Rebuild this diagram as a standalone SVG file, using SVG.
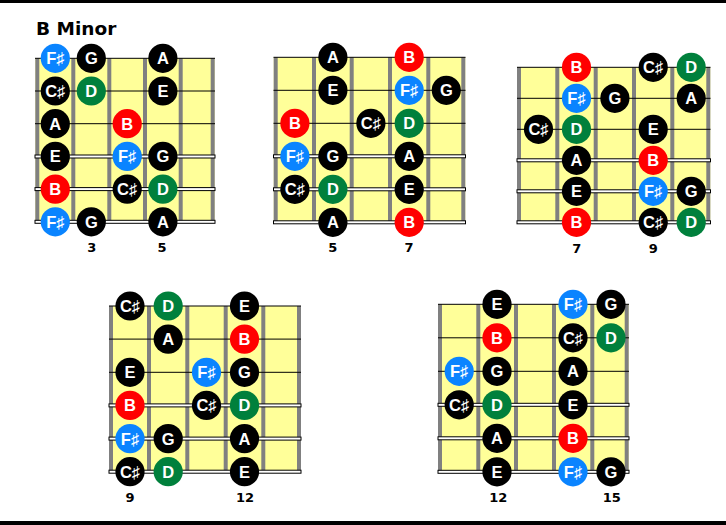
<svg xmlns="http://www.w3.org/2000/svg" width="726" height="525" viewBox="0 0 726 525">
<style>
.bg{fill:#fff}
.bar{fill:#000}
.fb{fill:#ffff99}
.fr{fill:#808080}
.s1{stroke:#000;stroke-width:1}
.s2{fill:#fff;stroke:#000;stroke-width:1}
.blk{fill:#000}
.red{fill:#ff0000}
.blu{fill:#0a84ff}
.grn{fill:#00803c}
.note text{font-family:"Liberation Sans",Arial,sans-serif;font-weight:bold;font-size:16.5px;fill:#fff;text-anchor:middle}
.fl{font-family:"DejaVu Sans",Verdana,sans-serif;font-weight:bold;font-size:13px;fill:#000;text-anchor:middle}
.title{font-family:"DejaVu Sans",Verdana,sans-serif;font-weight:bold;font-size:18.5px;fill:#000}
</style>
<rect class="bg" x="0" y="0" width="726" height="525"/>
<rect class="bar" x="0" y="0" width="726" height="3"/>
<rect class="bar" x="0" y="521" width="726" height="4"/>
<text class="title" x="36" y="35">B Minor</text>

<!-- Diagram 1 -->
<g id="diagram1">
<rect class="fb" x="35.3" y="58.3" width="179.4" height="163.5"/>
<g id="d1-frets">
<rect class="fr" x="35.3" y="58.3" width="4" height="163.5"/>
<rect class="fr" x="71.3" y="58.3" width="4" height="163.5"/>
<rect class="fr" x="107.3" y="58.3" width="4" height="163.5"/>
<rect class="fr" x="143" y="58.3" width="4" height="163.5"/>
<rect class="fr" x="178.7" y="58.3" width="4" height="163.5"/>
<rect class="fr" x="210.7" y="58.3" width="4" height="163.5"/>
</g>
<g id="d1-strings">
<line class="s1" x1="35" y1="58.3" x2="215" y2="58.3"/>
<line class="s1" x1="35" y1="91" x2="215" y2="91"/>
<line class="s1" x1="35" y1="123.7" x2="215" y2="123.7"/>
<rect class="s2" x="35" y="155" width="180" height="3"/>
<rect class="s2" x="35" y="187.6" width="180" height="3"/>
<rect class="s2" x="35" y="220.3" width="180" height="3"/>
</g>
<g id="d1-n01" class="note"><circle class="blu" cx="55.3" cy="58.3" r="14.6"/><text x="55.3" y="64.3">F♯</text></g>
<g id="d1-n02" class="note"><circle class="blk" cx="91.3" cy="58.3" r="14.6"/><text x="91.3" y="64.3">G</text></g>
<g id="d1-n03" class="note"><circle class="blk" cx="162.9" cy="58.3" r="14.6"/><text x="162.9" y="64.3">A</text></g>
<g id="d1-n04" class="note"><circle class="blk" cx="55.3" cy="91" r="14.6"/><text x="55.3" y="97">C♯</text></g>
<g id="d1-n05" class="note"><circle class="grn" cx="91.3" cy="91" r="14.6"/><text x="91.3" y="97">D</text></g>
<g id="d1-n06" class="note"><circle class="blk" cx="162.9" cy="91" r="14.6"/><text x="162.9" y="97">E</text></g>
<g id="d1-n07" class="note"><circle class="blk" cx="55.3" cy="123.7" r="14.6"/><text x="55.3" y="129.7">A</text></g>
<g id="d1-n08" class="note"><circle class="red" cx="127.2" cy="123.7" r="14.6"/><text x="127.2" y="129.7">B</text></g>
<g id="d1-n09" class="note"><circle class="blk" cx="55.3" cy="156.4" r="14.6"/><text x="55.3" y="162.4">E</text></g>
<g id="d1-n10" class="note"><circle class="blu" cx="127.2" cy="156.4" r="14.6"/><text x="127.2" y="162.4">F♯</text></g>
<g id="d1-n11" class="note"><circle class="blk" cx="162.9" cy="156.4" r="14.6"/><text x="162.9" y="162.4">G</text></g>
<g id="d1-n12" class="note"><circle class="red" cx="55.3" cy="189.1" r="14.6"/><text x="55.3" y="195.1">B</text></g>
<g id="d1-n13" class="note"><circle class="blk" cx="127.2" cy="189.1" r="14.6"/><text x="127.2" y="195.1">C♯</text></g>
<g id="d1-n14" class="note"><circle class="grn" cx="162.9" cy="189.1" r="14.6"/><text x="162.9" y="195.1">D</text></g>
<g id="d1-n15" class="note"><circle class="blu" cx="55.3" cy="221.8" r="14.6"/><text x="55.3" y="227.8">F♯</text></g>
<g id="d1-n16" class="note"><circle class="blk" cx="91.3" cy="221.8" r="14.6"/><text x="91.3" y="227.8">G</text></g>
<g id="d1-n17" class="note"><circle class="blk" cx="162.9" cy="221.8" r="14.6"/><text x="162.9" y="227.8">A</text></g>
<text class="fl" x="91.7" y="252">3</text>
<text class="fl" x="162" y="252">5</text>
</g>

<!-- Diagram 2 -->
<g id="diagram2">
<rect class="fb" x="273.7" y="57.3" width="191.6" height="165"/>
<g id="d2-frets">
<rect class="fr" x="273.7" y="57.3" width="4" height="165"/>
<rect class="fr" x="312" y="57.3" width="4" height="165"/>
<rect class="fr" x="349.7" y="57.3" width="4" height="165"/>
<rect class="fr" x="388" y="57.3" width="4" height="165"/>
<rect class="fr" x="426.3" y="57.3" width="4" height="165"/>
<rect class="fr" x="461.3" y="57.3" width="4" height="165"/>
</g>
<g id="d2-strings">
<line class="s1" x1="273.5" y1="57.3" x2="465.5" y2="57.3"/>
<line class="s1" x1="273.5" y1="90.3" x2="465.5" y2="90.3"/>
<line class="s1" x1="273.5" y1="123.3" x2="465.5" y2="123.3"/>
<rect class="s2" x="273.5" y="154.8" width="192" height="3"/>
<rect class="s2" x="273.5" y="187.8" width="192" height="3"/>
<rect class="s2" x="273.5" y="220.8" width="192" height="3"/>
</g>
<g id="d2-n01" class="note"><circle class="blk" cx="332.9" cy="57.3" r="14.6"/><text x="332.9" y="63.3">A</text></g>
<g id="d2-n02" class="note"><circle class="red" cx="409.2" cy="57.3" r="14.6"/><text x="409.2" y="63.3">B</text></g>
<g id="d2-n03" class="note"><circle class="blk" cx="332.9" cy="90.3" r="14.6"/><text x="332.9" y="96.3">E</text></g>
<g id="d2-n04" class="note"><circle class="blu" cx="409.2" cy="90.3" r="14.6"/><text x="409.2" y="96.3">F♯</text></g>
<g id="d2-n05" class="note"><circle class="blk" cx="446.3" cy="90.3" r="14.6"/><text x="446.3" y="96.3">G</text></g>
<g id="d2-n06" class="note"><circle class="red" cx="294.9" cy="123.3" r="14.6"/><text x="294.9" y="129.3">B</text></g>
<g id="d2-n07" class="note"><circle class="blk" cx="370.9" cy="123.3" r="14.6"/><text x="370.9" y="129.3">C♯</text></g>
<g id="d2-n08" class="note"><circle class="grn" cx="409.2" cy="123.3" r="14.6"/><text x="409.2" y="129.3">D</text></g>
<g id="d2-n09" class="note"><circle class="blu" cx="294.9" cy="156.3" r="14.6"/><text x="294.9" y="162.3">F♯</text></g>
<g id="d2-n10" class="note"><circle class="blk" cx="332.9" cy="156.3" r="14.6"/><text x="332.9" y="162.3">G</text></g>
<g id="d2-n11" class="note"><circle class="blk" cx="409.2" cy="156.3" r="14.6"/><text x="409.2" y="162.3">A</text></g>
<g id="d2-n12" class="note"><circle class="blk" cx="294.9" cy="189.3" r="14.6"/><text x="294.9" y="195.3">C♯</text></g>
<g id="d2-n13" class="note"><circle class="grn" cx="332.9" cy="189.3" r="14.6"/><text x="332.9" y="195.3">D</text></g>
<g id="d2-n14" class="note"><circle class="blk" cx="409.2" cy="189.3" r="14.6"/><text x="409.2" y="195.3">E</text></g>
<g id="d2-n15" class="note"><circle class="blk" cx="332.9" cy="222.3" r="14.6"/><text x="332.9" y="228.3">A</text></g>
<g id="d2-n16" class="note"><circle class="red" cx="409.2" cy="222.3" r="14.6"/><text x="409.2" y="228.3">B</text></g>
<text class="fl" x="332.7" y="252.3">5</text>
<text class="fl" x="409" y="252.3">7</text>
</g>

<!-- Diagram 3 -->
<g id="diagram3">
<rect class="fb" x="517" y="67.3" width="193.3" height="155"/>
<g id="d3-frets">
<rect class="fr" x="517" y="67.3" width="4" height="155"/>
<rect class="fr" x="555.3" y="67.3" width="4" height="155"/>
<rect class="fr" x="593.7" y="67.3" width="4" height="155"/>
<rect class="fr" x="632" y="67.3" width="4" height="155"/>
<rect class="fr" x="670.3" y="67.3" width="4" height="155"/>
<rect class="fr" x="706.3" y="67.3" width="4" height="155"/>
</g>
<g id="d3-strings">
<line class="s1" x1="517" y1="67.3" x2="710.5" y2="67.3"/>
<line class="s1" x1="517" y1="98.3" x2="710.5" y2="98.3"/>
<line class="s1" x1="517" y1="129.3" x2="710.5" y2="129.3"/>
<rect class="s2" x="517" y="158.8" width="193.5" height="3"/>
<rect class="s2" x="517" y="189.8" width="193.5" height="3"/>
<rect class="s2" x="517" y="220.8" width="193.5" height="3"/>
</g>
<g id="d3-n01" class="note"><circle class="red" cx="576.5" cy="67.3" r="14.6"/><text x="576.5" y="73.3">B</text></g>
<g id="d3-n02" class="note"><circle class="blk" cx="653.2" cy="67.3" r="14.6"/><text x="653.2" y="73.3">C♯</text></g>
<g id="d3-n03" class="note"><circle class="grn" cx="691.2" cy="67.3" r="14.6"/><text x="691.2" y="73.3">D</text></g>
<g id="d3-n04" class="note"><circle class="blu" cx="576.5" cy="98.3" r="14.6"/><text x="576.5" y="104.3">F♯</text></g>
<g id="d3-n05" class="note"><circle class="blk" cx="614.9" cy="98.3" r="14.6"/><text x="614.9" y="104.3">G</text></g>
<g id="d3-n06" class="note"><circle class="blk" cx="691.2" cy="98.3" r="14.6"/><text x="691.2" y="104.3">A</text></g>
<g id="d3-n07" class="note"><circle class="blk" cx="538.5" cy="129.3" r="14.6"/><text x="538.5" y="135.3">C♯</text></g>
<g id="d3-n08" class="note"><circle class="grn" cx="576.5" cy="129.3" r="14.6"/><text x="576.5" y="135.3">D</text></g>
<g id="d3-n09" class="note"><circle class="blk" cx="653.2" cy="129.3" r="14.6"/><text x="653.2" y="135.3">E</text></g>
<g id="d3-n10" class="note"><circle class="blk" cx="576.5" cy="160.3" r="14.6"/><text x="576.5" y="166.3">A</text></g>
<g id="d3-n11" class="note"><circle class="red" cx="653.2" cy="160.3" r="14.6"/><text x="653.2" y="166.3">B</text></g>
<g id="d3-n12" class="note"><circle class="blk" cx="576.5" cy="191.3" r="14.6"/><text x="576.5" y="197.3">E</text></g>
<g id="d3-n13" class="note"><circle class="blu" cx="653.2" cy="191.3" r="14.6"/><text x="653.2" y="197.3">F♯</text></g>
<g id="d3-n14" class="note"><circle class="blk" cx="691.2" cy="191.3" r="14.6"/><text x="691.2" y="197.3">G</text></g>
<g id="d3-n15" class="note"><circle class="red" cx="576.5" cy="222.3" r="14.6"/><text x="576.5" y="228.3">B</text></g>
<g id="d3-n16" class="note"><circle class="blk" cx="653.2" cy="222.3" r="14.6"/><text x="653.2" y="228.3">C♯</text></g>
<g id="d3-n17" class="note"><circle class="grn" cx="691.2" cy="222.3" r="14.6"/><text x="691.2" y="228.3">D</text></g>
<text class="fl" x="576.7" y="252.7">7</text>
<text class="fl" x="653.3" y="252.7">9</text>
</g>

<!-- Diagram 4 -->
<g id="diagram4">
<rect class="fb" x="109" y="306" width="192" height="165.7"/>
<g id="d4-frets">
<rect class="fr" x="109" y="306" width="4" height="165.7"/>
<rect class="fr" x="147" y="306" width="4" height="165.7"/>
<rect class="fr" x="185.3" y="306" width="4" height="165.7"/>
<rect class="fr" x="223.7" y="306" width="4" height="165.7"/>
<rect class="fr" x="261.3" y="306" width="4" height="165.7"/>
<rect class="fr" x="297" y="306" width="4" height="165.7"/>
</g>
<g id="d4-strings">
<line class="s1" x1="109" y1="306" x2="301" y2="306"/>
<line class="s1" x1="109" y1="339.1" x2="301" y2="339.1"/>
<line class="s1" x1="109" y1="372.3" x2="301" y2="372.3"/>
<rect class="s2" x="109" y="403.9" width="192" height="3"/>
<rect class="s2" x="109" y="437.1" width="192" height="3"/>
<rect class="s2" x="109" y="470.2" width="192" height="3"/>
</g>
<g id="d4-n01" class="note"><circle class="blk" cx="130" cy="306" r="14.6"/><text x="130" y="312">C♯</text></g>
<g id="d4-n02" class="note"><circle class="grn" cx="168.2" cy="306" r="14.6"/><text x="168.2" y="312">D</text></g>
<g id="d4-n03" class="note"><circle class="blk" cx="244.5" cy="306" r="14.6"/><text x="244.5" y="312">E</text></g>
<g id="d4-n04" class="note"><circle class="blk" cx="168.2" cy="339.1" r="14.6"/><text x="168.2" y="345.1">A</text></g>
<g id="d4-n05" class="note"><circle class="red" cx="244.5" cy="339.1" r="14.6"/><text x="244.5" y="345.1">B</text></g>
<g id="d4-n06" class="note"><circle class="blk" cx="130" cy="372.3" r="14.6"/><text x="130" y="378.3">E</text></g>
<g id="d4-n07" class="note"><circle class="blu" cx="206.5" cy="372.3" r="14.6"/><text x="206.5" y="378.3">F♯</text></g>
<g id="d4-n08" class="note"><circle class="blk" cx="244.5" cy="372.3" r="14.6"/><text x="244.5" y="378.3">G</text></g>
<g id="d4-n09" class="note"><circle class="red" cx="130" cy="405.4" r="14.6"/><text x="130" y="411.4">B</text></g>
<g id="d4-n10" class="note"><circle class="blk" cx="206.5" cy="405.4" r="14.6"/><text x="206.5" y="411.4">C♯</text></g>
<g id="d4-n11" class="note"><circle class="grn" cx="244.5" cy="405.4" r="14.6"/><text x="244.5" y="411.4">D</text></g>
<g id="d4-n12" class="note"><circle class="blu" cx="130" cy="438.6" r="14.6"/><text x="130" y="444.6">F♯</text></g>
<g id="d4-n13" class="note"><circle class="blk" cx="168.2" cy="438.6" r="14.6"/><text x="168.2" y="444.6">G</text></g>
<g id="d4-n14" class="note"><circle class="blk" cx="244.5" cy="438.6" r="14.6"/><text x="244.5" y="444.6">A</text></g>
<g id="d4-n15" class="note"><circle class="blk" cx="130" cy="471.7" r="14.6"/><text x="130" y="477.7">C♯</text></g>
<g id="d4-n16" class="note"><circle class="grn" cx="168.2" cy="471.7" r="14.6"/><text x="168.2" y="477.7">D</text></g>
<g id="d4-n17" class="note"><circle class="blk" cx="244.5" cy="471.7" r="14.6"/><text x="244.5" y="477.7">E</text></g>
<text class="fl" x="130" y="501.7">9</text>
<text class="fl" x="245" y="501.7">12</text>
</g>

<!-- Diagram 5 -->
<g id="diagram5">
<rect class="fb" x="438" y="304.3" width="190.7" height="167.5"/>
<g id="d5-frets">
<rect class="fr" x="438" y="304.3" width="4" height="167.5"/>
<rect class="fr" x="476.3" y="304.3" width="4" height="167.5"/>
<rect class="fr" x="514" y="304.3" width="4" height="167.5"/>
<rect class="fr" x="552" y="304.3" width="4" height="167.5"/>
<rect class="fr" x="590.3" y="304.3" width="4" height="167.5"/>
<rect class="fr" x="624.7" y="304.3" width="4" height="167.5"/>
</g>
<g id="d5-strings">
<line class="s1" x1="438" y1="304.3" x2="629" y2="304.3"/>
<line class="s1" x1="438" y1="337.8" x2="629" y2="337.8"/>
<line class="s1" x1="438" y1="371.3" x2="629" y2="371.3"/>
<rect class="s2" x="438" y="403.3" width="191" height="3"/>
<rect class="s2" x="438" y="436.8" width="191" height="3"/>
<rect class="s2" x="438" y="470.3" width="191" height="3"/>
</g>
<g id="d5-n01" class="note"><circle class="blk" cx="497" cy="304.3" r="14.6"/><text x="497" y="310.3">E</text></g>
<g id="d5-n02" class="note"><circle class="blu" cx="573" cy="304.3" r="14.6"/><text x="573" y="310.3">F♯</text></g>
<g id="d5-n03" class="note"><circle class="blk" cx="611" cy="304.3" r="14.6"/><text x="611" y="310.3">G</text></g>
<g id="d5-n04" class="note"><circle class="red" cx="497" cy="337.8" r="14.6"/><text x="497" y="343.8">B</text></g>
<g id="d5-n05" class="note"><circle class="blk" cx="573" cy="337.8" r="14.6"/><text x="573" y="343.8">C♯</text></g>
<g id="d5-n06" class="note"><circle class="grn" cx="611" cy="337.8" r="14.6"/><text x="611" y="343.8">D</text></g>
<g id="d5-n07" class="note"><circle class="blu" cx="459.2" cy="371.3" r="14.6"/><text x="459.2" y="377.3">F♯</text></g>
<g id="d5-n08" class="note"><circle class="blk" cx="497" cy="371.3" r="14.6"/><text x="497" y="377.3">G</text></g>
<g id="d5-n09" class="note"><circle class="blk" cx="573" cy="371.3" r="14.6"/><text x="573" y="377.3">A</text></g>
<g id="d5-n10" class="note"><circle class="blk" cx="459.2" cy="404.8" r="14.6"/><text x="459.2" y="410.8">C♯</text></g>
<g id="d5-n11" class="note"><circle class="grn" cx="497" cy="404.8" r="14.6"/><text x="497" y="410.8">D</text></g>
<g id="d5-n12" class="note"><circle class="blk" cx="573" cy="404.8" r="14.6"/><text x="573" y="410.8">E</text></g>
<g id="d5-n13" class="note"><circle class="blk" cx="497" cy="438.3" r="14.6"/><text x="497" y="444.3">A</text></g>
<g id="d5-n14" class="note"><circle class="red" cx="573" cy="438.3" r="14.6"/><text x="573" y="444.3">B</text></g>
<g id="d5-n15" class="note"><circle class="blk" cx="497" cy="471.8" r="14.6"/><text x="497" y="477.8">E</text></g>
<g id="d5-n16" class="note"><circle class="blu" cx="573" cy="471.8" r="14.6"/><text x="573" y="477.8">F♯</text></g>
<g id="d5-n17" class="note"><circle class="blk" cx="611" cy="471.8" r="14.6"/><text x="611" y="477.8">G</text></g>
<text class="fl" x="498.3" y="501.7">12</text>
<text class="fl" x="611.7" y="501.7">15</text>
</g>
</svg>
